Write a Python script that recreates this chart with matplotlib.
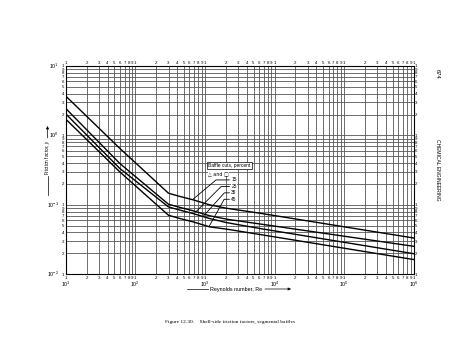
import numpy as np
import matplotlib
matplotlib.use("Agg")
import matplotlib.pyplot as plt
from matplotlib.ticker import LogLocator, FuncFormatter
from matplotlib.lines import Line2D

# Reynolds numbers
re_points = [10, 60, 300, 440, 680, 1180, 2050, 6200, 1e6]
# friction factor for each baffle cut (percent)
cut_labels = ["15", "25", "35", "45"]
f_cut15 = [3.7, 0.65, 0.147, 0.132, 0.118, 0.0998, 0.0893, 0.0757, 0.0333]
f_cut25 = [2.45, 0.394, 0.102, 0.0918, 0.082, 0.0695, 0.0622, 0.053, 0.0253]
f_cut35 = [2.05, 0.334, 0.0933, 0.0838, 0.0748, 0.0634, 0.0555, 0.0456, 0.0198]
f_cut45 = [1.72, 0.298, 0.0708, 0.0635, 0.0568, 0.0481, 0.0447, 0.0374, 0.0163]
# where the label leaders meet each curve
leader_re = [664, 745, 940, 1145]
x_decades = [10, 100, 1000, 10000, 100000, 1000000]
y_decades = [10, 1, 0.1, 0.01]
y_decade_labels = ["$10^{1}$", "$10^{0}$", "$10^{-1}$", "$10^{-2}$"]


def digit(v, pos):
    e = np.floor(np.log10(v) + 1e-9)
    d = int(round(v / 10 ** e))
    return "1" if d >= 10 else str(d)


def f_at(re, f):
    return 10 ** np.interp(np.log10(re), np.log10(re_points), np.log10(f))


def main():
    plt.rcParams["font.family"] = ["Liberation Sans", "DejaVu Sans"]
    plt.rcParams["mathtext.fontset"] = "custom"
    plt.rcParams["mathtext.rm"] = "Liberation Sans"
    plt.rcParams["mathtext.it"] = "Liberation Sans:italic"

    fig = plt.figure(figsize=(4.74, 3.62), dpi=100)
    ax = fig.add_axes([0.1386, 0.2423, 0.7342, 0.5754])
    ax.set_xscale("log")
    ax.set_yscale("log")
    ax.set_xlim(10, 1e6)
    ax.set_ylim(0.01, 10)

    for axis in (ax.xaxis, ax.yaxis):
        axis.set_major_locator(LogLocator(base=10, numticks=20))
        axis.set_minor_locator(LogLocator(base=10, subs=np.arange(2, 10), numticks=100))
        axis.set_major_formatter(FuncFormatter(digit))
        axis.set_minor_formatter(FuncFormatter(digit))

    ax.grid(which="both", color="#555555", linewidth=0.6)
    ax.set_axisbelow(True)
    ax.tick_params(which="both", length=0, labelsize=3.2, pad=1.0,
                   top=True, right=True, labeltop=True, labelright=True)
    for s in ax.spines.values():
        s.set_linewidth(0.8)

    curves = [f_cut15, f_cut25, f_cut35, f_cut45]
    for f in curves:
        ax.plot(re_points, f, color="black", linewidth=1.0)

    # decade labels
    for xd in x_decades:
        ax.text(xd, -0.05, f"$10^{{{int(np.log10(xd))}}}$", transform=ax.get_xaxis_transform(),
                ha="center", va="center", fontsize=3.8)
    for yd, lab in zip(y_decades, y_decade_labels):
        ax.text(-0.019, yd, lab, transform=ax.get_yaxis_transform(),
                ha="right", va="center", fontsize=3.8)

    # baffle-cut labels
    ax.text(0.41, 0.521, "Baffle cuts, percent", transform=ax.transAxes, fontsize=3.5,
            ha="left", va="center",
            bbox=dict(boxstyle="square,pad=0.25", fc="white", ec="black", lw=0.5))
    ax.text(0.41, 0.484, "\u25b3 and \u25a1", transform=ax.transAxes, fontsize=3.5,
            ha="left", va="center", family=["DejaVu Sans"],
            bbox=dict(boxstyle="square,pad=0.1", fc="white", ec="none"))
    label_y = [0.453, 0.421, 0.391, 0.360]
    angles = [40, 45, 48, 61]
    for lab, ly, re, f, ang in zip(cut_labels, label_y, leader_re, curves, angles):
        ax.annotate(lab, xy=(re, f_at(re, f)), xycoords="data",
                    xytext=(0.476, ly), textcoords="axes fraction",
                    fontsize=3.5, ha="left", va="center",
                    bbox=dict(boxstyle="square,pad=0.1", fc="white", ec="none"),
                    arrowprops=dict(arrowstyle="-", lw=0.6, color="black",
                                    relpos=(0, 0.5), shrinkA=1, shrinkB=0,
                                    connectionstyle=f"angle,angleA=0,angleB={ang},rad=0"))

    # axis titles with arrows
    fig.text(236.5 / 474, 1 - 289 / 362, "Reynolds number, Re", fontsize=3.9,
             ha="center", va="center")
    fig.add_artist(Line2D([186.7 / 474, 208 / 474], [1 - 289 / 362] * 2,
                          transform=fig.transFigure, color="black", lw=0.5))
    ax.annotate("", xy=(291 / 474, 1 - 289 / 362), xytext=(265 / 474, 1 - 289 / 362),
                xycoords="figure fraction", textcoords="figure fraction",
                arrowprops=dict(arrowstyle="-|>", lw=0.5, color="black",
                                mutation_scale=4, shrinkA=0, shrinkB=0))
    fig.text(47.5 / 474, 1 - 157 / 362, "Friction factor, $j_f$", fontsize=3.4,
             rotation=90, ha="center", va="center")
    fig.add_artist(Line2D([47.5 / 474] * 2, [1 - 195 / 362, 1 - 176 / 362],
                          transform=fig.transFigure, color="black", lw=0.5))
    ax.annotate("", xy=(47.5 / 474, 1 - 126 / 362), xytext=(47.5 / 474, 1 - 138 / 362),
                xycoords="figure fraction", textcoords="figure fraction",
                arrowprops=dict(arrowstyle="-|>", lw=0.5, color="black",
                                mutation_scale=4, shrinkA=0, shrinkB=0))

    # page furniture
    fig.text(437 / 474, 1 - 74 / 362, "674", fontsize=4.2, rotation=-90,
             ha="center", va="center")
    fig.text(437 / 474, 1 - 170 / 362, "CHEMICAL ENGINEERING", fontsize=3.6,
             rotation=-90, ha="center", va="center")
    fig.text(165 / 474, 1 - 321.7 / 362,
             "Figure 12.30.    Shell-side friction factors, segmental baffles",
             fontsize=3.9, family=["Liberation Serif"], ha="left", va="center")

    fig.savefig("out.png", dpi=100)
    plt.close(fig)


if __name__ == "__main__":
    main()
